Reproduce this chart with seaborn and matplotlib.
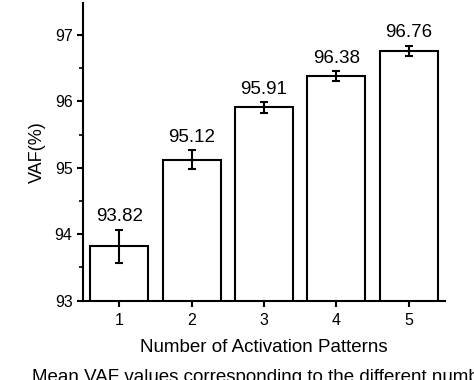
import numpy as np
import pandas as pd
import matplotlib
matplotlib.use("Agg")
import matplotlib.pyplot as plt
import seaborn as sns
from matplotlib.ticker import MultipleLocator

# data
patterns = ["1", "2", "3", "4", "5"]
vaf = [93.82, 95.12, 95.91, 96.38, 96.76]
vaf_err = [0.25, 0.14, 0.08, 0.08, 0.08]

df = pd.DataFrame({"patterns": patterns, "vaf": vaf, "err": vaf_err})

sns.set_style("ticks")
plt.rcParams['font.family'] = ['Liberation Sans', 'DejaVu Sans']
plt.rcParams['text.color'] = 'black'
plt.rcParams['axes.labelcolor'] = 'black'
plt.rcParams['xtick.color'] = 'black'
plt.rcParams['ytick.color'] = 'black'
plt.rcParams['axes.edgecolor'] = 'black'

fig = plt.figure(figsize=(4.74, 3.80), dpi=100)
ax = fig.add_axes([0.175, 0.209, 0.764, 0.783])

sns.barplot(data=df, x="patterns", y="vaf", color="white", edgecolor="black",
            linewidth=1.5, width=0.8, ax=ax, errorbar=None)
ax.errorbar(np.arange(len(patterns)), df["vaf"], yerr=df["err"], fmt="none",
            ecolor="black", elinewidth=1.5, capsize=3, capthick=1.5)

# value labels above the error bars
for i, (v, e) in enumerate(zip(vaf, vaf_err)):
    ax.annotate(f"{v:.2f}", (i, v + e), xytext=(0, 3), textcoords="offset points",
                ha="center", va="bottom", fontsize=13.5)

ax.set_xlim(-0.5, 4.5)
ax.set_ylim(93, 97.48)
ax.yaxis.set_major_locator(MultipleLocator(1))
ax.yaxis.set_minor_locator(MultipleLocator(0.5))
ax.tick_params(axis="both", which="major", direction="out", length=4, width=1.5,
               labelsize=11.5)
ax.tick_params(axis="x", which="major", pad=5)
ax.tick_params(axis="y", which="minor", direction="out", length=3, width=1.2)

sns.despine(ax=ax)
for s in ["left", "bottom"]:
    ax.spines[s].set_linewidth(1.5)

ax.set_xlabel("Number of Activation Patterns", fontsize=13.5, labelpad=8)
ax.set_ylabel("VAF(%)", fontsize=13, labelpad=6)

fig.text(32 / 474, 1 - 369 / 380, "Mean VAF values corresponding to the different numb",
         ha="left", va="top", fontsize=13.5)

fig.savefig("out.png", dpi=100)
